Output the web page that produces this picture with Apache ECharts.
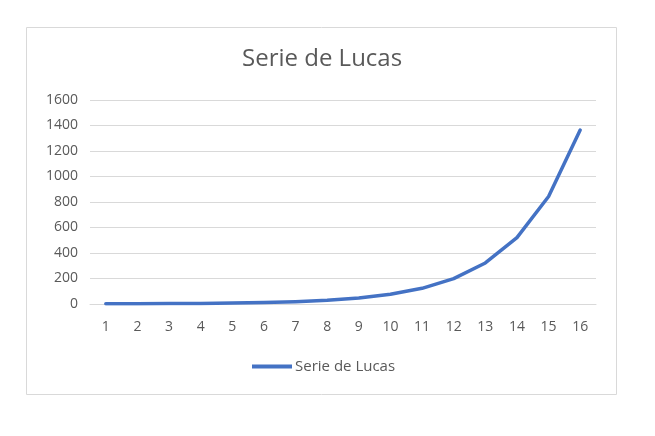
<!DOCTYPE html>
<html>
<head>
<meta charset="utf-8">
<script src="https://cdn.jsdelivr.net/npm/echarts@6/dist/echarts.min.js"></script>
<style>
  html, body { margin: 0; padding: 0; background: #fff; }
  #chart { width: 655px; height: 436px; }
</style>
</head>
<body>
<div id="chart"></div>
<script>
// Serie de Lucas - line chart

var categories = ['1','2','3','4','5','6','7','8','9','10','11','12','13','14','15','16'];
var lucasValues = [2, 1, 3, 4, 7, 11, 18, 29, 47, 76, 123, 199, 322, 521, 843, 1364];
var seriesName = 'Serie de Lucas';

var textColor = '#595959';
var gridColor = '#d9d9d9';
var font = '"Open Sans", "Noto Sans", sans-serif';

var chart = echarts.init(document.getElementById('chart'));
chart.setOption({
    animation: false,
    color: ['#4472c4'],
    textStyle: { fontFamily: font },
    graphic: [
        {
            type: 'rect',
            shape: { x: 26.5, y: 27.5, width: 590, height: 367 },
            style: { fill: 'none', stroke: '#d9d9d9', lineWidth: 1 },
            silent: true
        }
    ],
    title: {
        text: seriesName,
        left: 237,
        top: 42,
        textStyle: {
            color: textColor,
            fontSize: 24,
            fontWeight: 'normal',
            fontFamily: font
        }
    },
    legend: {
        left: 252,
        top: 359,
        padding: 0,
        icon: 'rect',
        itemWidth: 40,
        itemHeight: 4,
        data: [seriesName],
        textStyle: { color: textColor, fontSize: 15, padding: [0, 0, 0, -2] }
    },
    grid: {
        left: 90,
        right: 59,
        top: 100,
        bottom: 132,
        containLabel: false
    },
    xAxis: {
        type: 'category',
        data: categories,
        boundaryGap: true,
        axisLine: { lineStyle: { color: gridColor } },
        axisTick: { show: false },
        axisLabel: { color: textColor, fontSize: 14, margin: 16 }
    },
    yAxis: {
        type: 'value',
        min: 0,
        max: 1600,
        interval: 200,
        axisLine: { show: false },
        axisTick: { show: false },
        axisLabel: {
            color: textColor,
            fontSize: 14,
            margin: 12,
            formatter: function (v) { return String(v); }
        },
        splitLine: { lineStyle: { color: gridColor, width: 1 } }
    },
    series: [
        {
            name: seriesName,
            type: 'line',
            data: lucasValues,
            showSymbol: false,
            lineStyle: { width: 3.5, cap: 'round', join: 'round' }
        }
    ]
});
</script>
</body>
</html>
